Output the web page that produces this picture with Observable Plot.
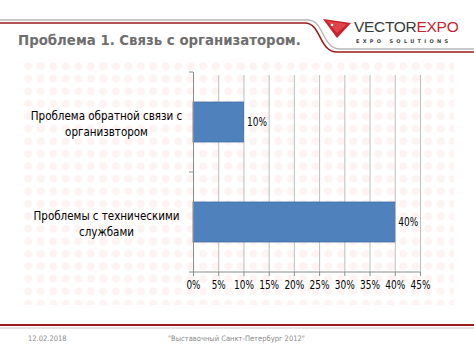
<!DOCTYPE html>
<html>
<head>
<meta charset="utf-8">
<script src="https://cdn.jsdelivr.net/npm/d3@7"></script>
<script src="https://cdn.jsdelivr.net/npm/@observablehq/plot@0.6"></script>
<style>
  html, body { margin: 0; padding: 0; background: #fff; }
  #page { position: relative; width: 474px; height: 355px; overflow: hidden; background: #fff; font-family: "Liberation Sans", Arial, sans-serif; }
  #pattern { position: absolute; left: 22px; top: 60px; width: 432px; height: 245px;
    background-image: radial-gradient(circle, #fdf3f3 3.5px, rgba(255,255,255,0) 4.5px);
    background-size: 12.5px 12.5px; }
  #title { position: absolute; left: 18px; top: 31px; font-family: "DejaVu Sans Condensed", "DejaVu Sans", sans-serif; font-weight: bold; font-size: 14.8px; color: #6e6e6e; white-space: nowrap; }
  #logo { position: absolute; left: 354px; top: 19px; font-family: "Liberation Sans", sans-serif; font-size: 15.5px; white-space: nowrap; line-height: 1; letter-spacing: -0.3px; }
  #logo .v { color: #3a3a3a; } #logo .e { color: #c8232c; }
  #logosub { position: absolute; left: 356px; top: 38px; font-family: "DejaVu Sans", sans-serif; font-weight: bold; font-size: 5px; letter-spacing: 3.3px; color: #444; white-space: nowrap; }
  #chart { position: absolute; left: 0; top: 60px; }
  #date { position: absolute; left: 28px; top: 334px; font-size: 7.5px; color: #8a8a8a; font-family: "DejaVu Sans Condensed", sans-serif; }
  #foot { position: absolute; left: 168px; top: 334px; font-size: 7.5px; color: #8a8a8a; font-family: "DejaVu Sans Condensed", sans-serif; white-space: nowrap; }
  #deco { position: absolute; left: 0; top: 0; }
</style>
</head>
<body>
<div id="page">
  <div id="pattern"></div>
  <svg id="deco" width="474" height="355">
    <path d="M0,20 L308,20 C324,20 322,49 340,49 L474,49" fill="none" stroke="#b8b8b8" stroke-width="1.3"/>
    <path d="M0,23 L305,23 C321,23 319,52 337,52 L474,52" fill="none" stroke="#9b1c1c" stroke-width="1.6"/>
    <path d="M323,19 L351,23 L337,38 Z" fill="#c8232c"/>
    <path d="M327,21 L347,24 L337,33 Z" fill="#e0444a"/>
    <circle cx="332" cy="25" r="1.3" fill="#fff"/>
    <line x1="0" y1="325" x2="474" y2="325" stroke="#9b1c1c" stroke-width="1.8"/>
    <line x1="0" y1="328" x2="474" y2="328" stroke="#c8c8c8" stroke-width="1"/>
  </svg>
  <div id="title">Проблема 1. Связь с организатором.</div>
  <div id="logo"><span class="v">VECTOR</span><span class="e">EXPO</span></div>
  <div id="logosub">EXPO SOLUTIONS</div>
  <div id="chart"></div>
  <div id="date">12.02.2018</div>
  <div id="foot">"Выставочный Санкт-Петербург 2012"</div>
</div>
<script>
const categories = ["Проблема обратной связи с\nорганизвтором", "Проблемы с техническими\nслужбами"];
const values = [0.10, 0.40];
const xTicks = [0, 0.05, 0.10, 0.15, 0.20, 0.25, 0.30, 0.35, 0.40, 0.45];
const valueLabels = ["10%", "40%"];

const data = categories.map((c, i) => ({cat: c, v: values[i], label: valueLabels[i]}));

const W = 474, H = 240, mL = 193, mR = 54, mT = 12, mB = 28;
const chart = Plot.plot({
  width: W,
  height: H,
  marginLeft: mL,
  marginRight: mR,
  marginTop: mT,
  marginBottom: mB,
  style: {fontFamily: "'DejaVu Sans Condensed', 'DejaVu Sans', sans-serif", fontSize: "11px", color: "#000", background: "transparent"},
  x: {domain: [0, 0.45], ticks: xTicks, label: null},
  y: {domain: categories, paddingInner: 0.6, paddingOuter: 0.3, axis: null, label: null},
  marks: [
    Plot.ruleX(xTicks.slice(1), {stroke: "#bdbdbd", strokeOpacity: 1, strokeWidth: 1, insetTop: 3}),
    Plot.barX(data, {x: "v", y: "cat", fill: "#4f81bd", stroke: "#3f6fa8", strokeWidth: 0.8}),
    Plot.ruleX([0], {stroke: "#8c8c8c", strokeWidth: 1}),
    Plot.axisX({ticks: xTicks, tickFormat: d => Math.round(d * 100) + "%", tickSize: 4, tickPadding: 4, stroke: "#8c8c8c", fontSize: 12, fill: "#000", label: null}),
    Plot.text(data, {x: "v", y: "cat", text: "label", dx: 3, textAnchor: "start", fontSize: 12, fill: "#000"}),
    Plot.text(data, {x: 0, y: "cat", text: "cat", dx: -87, textAnchor: "middle", lineHeight: 1.4, fontSize: 11.5, fill: "#000"})
  ]
});
document.getElementById("chart").appendChild(chart);

const svg = d3.select(chart);
// narrow, Tahoma-like percentage labels as in the reference
svg.selectAll("text").each(function () {
  const t = this.textContent;
  if (/^\d+%$/.test(t)) {
    d3.select(this).attr("textLength", 6 * t.length + 2).attr("lengthAdjust", "spacingAndGlyphs");
  }
});

// bottom axis line and left category-separator ticks (Excel style)
const xs = chart.scale("x");
const yTop = mT, yBot = H - mB;
svg.append("line").attr("x1", xs.apply(0)).attr("x2", xs.apply(0.45)).attr("y1", yBot).attr("y2", yBot).attr("stroke", "#8c8c8c");
const mid = (yTop + yBot) / 2;
[yTop, mid, yBot].forEach(y => svg.append("line").attr("x1", xs.apply(0) - 4).attr("x2", xs.apply(0)).attr("y1", y).attr("y2", y).attr("stroke", "#8c8c8c"));
</script>
</body>
</html>
